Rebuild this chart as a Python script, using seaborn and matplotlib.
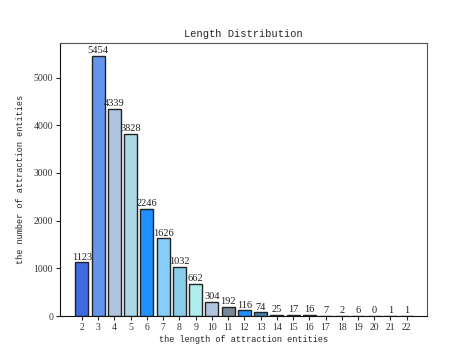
import matplotlib
matplotlib.use("Agg")
import matplotlib.pyplot as plt
import seaborn as sns
import pandas as pd

lengths = [str(i) for i in range(2, 23)]
counts = [1123, 5454, 4339, 3828, 2246, 1626, 1032, 662, 304, 192, 116, 74,
          25, 17, 16, 7, 2, 6, 0, 1, 1]
colors = ["royalblue", "cornflowerblue", "lightsteelblue", "lightblue", "dodgerblue",
          "lightskyblue", "skyblue", "paleturquoise", "lightsteelblue", "lightslategray",
          "dodgerblue", "steelblue", "royalblue", "cornflowerblue", "lightsteelblue",
          "lightblue", "dodgerblue", "lightskyblue", "skyblue", "paleturquoise",
          "lightsteelblue"]

sns.set_style("ticks")
plt.rcParams['font.family'] = ['Liberation Mono', 'DejaVu Sans']

df = pd.DataFrame({"length": lengths, "count": counts})

fig = plt.figure(figsize=(4.74, 3.55), dpi=100)
ax = fig.add_axes([60/474, 1-316/355, (427-60)/474, (316-43)/355])
sns.barplot(data=df, x="length", y="count", hue="length", palette=colors,
            legend=False, edgecolor="#222222", linewidth=1.0, width=0.8, ax=ax, saturation=1)

for i, v in enumerate(counts):
    ax.text(i, v + 20, str(v), ha="center", va="bottom", fontsize=7.5,
            family="Liberation Serif", color="#222222")

ax.set_xlim(-1.35, 21.25)
ax.set_ylim(0, 5727)
ax.set_yticks([0, 1000, 2000, 3000, 4000, 5000])
ax.set_title("Length Distribution", fontsize=7.5, pad=4)
ax.set_xlabel("the length of attraction entities", fontsize=6.2, labelpad=2)
ax.set_ylabel("the number of attraction entities", fontsize=6.2, labelpad=6)
for lab in ax.get_xticklabels() + ax.get_yticklabels():
    lab.set_family("Liberation Serif")
    lab.set_fontsize(7)
    lab.set_color("#333333")
ax.tick_params(length=3, width=0.8, pad=2)
for s in ["top", "right"]:
    ax.spines[s].set_visible(True)
    ax.spines[s].set_color("#555555")
for s in ["left", "bottom"]:
    ax.spines[s].set_color("#111111")

fig.savefig("out.png", dpi=100)
